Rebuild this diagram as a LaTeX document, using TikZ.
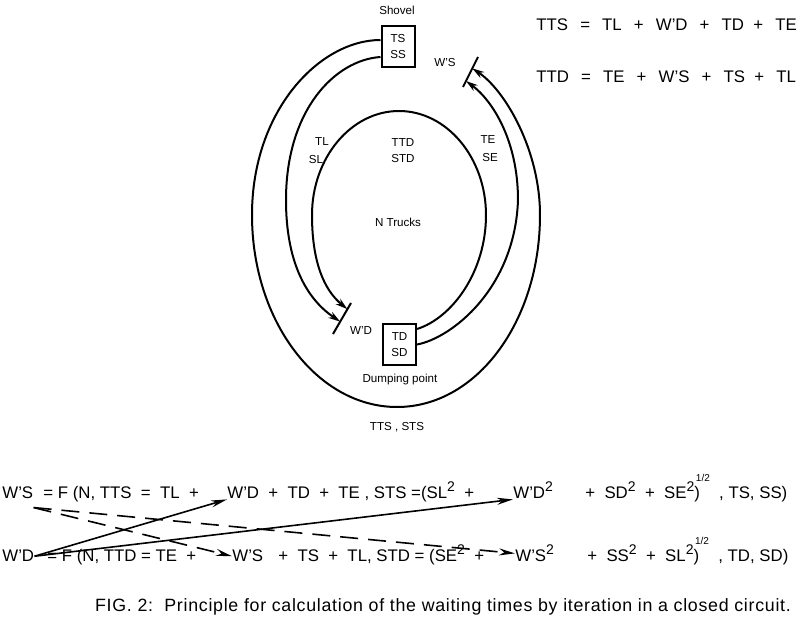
\documentclass[tikz,border=0pt]{standalone}
\usepackage{fontspec}
\setmainfont{Liberation Sans}
\usepackage{tikz}
\usetikzlibrary{arrows.meta}
\usetikzlibrary{calc}
\newcommand{\tsq}{\raisebox{0.45em}{\fontsize{7}{7}\selectfont 2}}
\newcommand{\thalf}{\hspace{-2pt}\raisebox{1.05em}{\fontsize{5}{5}\selectfont 1/2}}

\begin{document}
\begin{tikzpicture}[x=0.5pt,y=-0.5pt,
  lbl/.style={font=\fontsize{5.8}{8}\selectfont,inner sep=0pt},
  post/.style={draw,line width=1pt,inner sep=0pt,align=center,minimum width=16.5pt,minimum height=20.5pt,font=\fontsize{5.8}{8}\selectfont},
  eqn/.style={font=\fontsize{8.4}{10}\selectfont,anchor=base west,inner sep=0pt},
  track/.style={line width=1pt},
  tip/.style={-{Stealth[length=6pt,width=3.5pt]}},
  link/.style={line width=0.8pt,-{Stealth[length=8pt,width=3.5pt]}},
  dlink/.style={link,dash pattern=on 9pt off 5pt}]
\useasboundingbox (0,0) rectangle (800,626);

\node[post] (shovel) at (398,47) {TS\\SS};
\node[lbl] (shovlbl) at (397,10) {Shovel};
\node[post] (dump) at (399.5,344.5) {TD\\SD};
\node[lbl] (dumplbl) at (400,380) {Dumping point};
\node[lbl] (circ) at (397,427) {TTS , STS};
\node[lbl] (tl) at (322,142) {TL};
\node[lbl] (sl) at (316,160) {SL};
\node[lbl,align=center] (ttd) at (403,151) {TTD\\STD};
\node[lbl] (te) at (488,140) {TE};
\node[lbl] (se) at (490,158) {SE};
\node[lbl] (trucks) at (398,222) {N Trucks};
\node[lbl] (wslbl) at (445,63) {W'S};
\node[lbl] (wdlbl) at (361,331) {W'D};

\coordinate (wsa) at (478,57);
\coordinate (wsb) at (463,87);
\coordinate (wda) at (351,303);
\coordinate (wdb) at (333,334);
\draw[track] (wsa) -- (wsb);
\draw[track] (wda) -- (wdb);

\draw[track,tip] ([yshift=3.5pt]shovel.west) .. controls (320,40) and (252,110) .. (252,215)
  .. controls (252,321) and (317,407) .. (397,407) .. controls (477,407) and (540,321) .. (540,215)
  .. controls (540,150) and (505,90) .. ($(wsa)!0.38!(wsb)$);
\draw[track,tip] ([yshift=-5pt]shovel.west) .. controls (335,60) and (286,110) .. (286,200)
  .. controls (286,260) and (305,298) .. ($(wda)!0.6!(wdb)$);
\draw[track,tip] ([yshift=-3pt]dump.north east) .. controls (452,318) and (486,272) .. (486,215)
  .. controls (486,158) and (447,111) .. (399,111) .. controls (351,111) and (312,158) .. (312,215)
  .. controls (312,262) and (324,290) .. ($(wda)!0.2!(wdb)$);
\draw[track,tip] (dump.east) .. controls (452,338) and (515,288) .. (518,200)
  .. controls (518,140) and (492,100) .. ($(wsa)!0.8!(wsb)$);

\node[eqn] (tts) at (536,31) {TTS\ \ \,=\ \ \,TL\ \ \,+\ \ \,W'D\ \ \,+\ \ \,TD\ \ +\ \ \,TE};
\node[eqn] (ttdeq) at (536,83) {TTD\ \ \,=\ \ \,TE\ \ \,+\ \ \,W'S\ \ \,+\ \ \,TS\ \ +\ \ \,TL};

\node[eqn] (ws1) at (2,499) {W'S};
\node[eqn] (eq1a) at (43,499) {=\ F (N, TTS\ \ =\ \ TL\ \ +};
\node[eqn] (wd1) at (227,499) {W'D};
\node[eqn] (eq1b) at (268,499) {+\ \ TD\ \ +\ \ TE , STS\ =(SL\tsq\ \ +};
\node[eqn] (wd1sq) at (513,499) {W'D\tsq};
\node[eqn] (eq1c) at (585,499) {+\ \ SD\tsq\ \ +\ \ SE\tsq)\thalf\ \ , TS, SS)};

\node[eqn] (wd2) at (2,562) {W'D};
\node[eqn] (eq2a) at (47,562) {=\ F (N, TTD = TE\ \ +};
\node[eqn] (ws2) at (232,562) {W'S};
\node[eqn] (eq2b) at (278,562) {+\ \ TS\ \ +\ \ TL, STD\ =\ (SE\tsq\ \ +};
\node[eqn] (ws2sq) at (515,562) {W'S\tsq};
\node[eqn] (eq2c) at (587,562) {+\ \ SS\tsq\ \ +\ \ SL\tsq)\thalf\ \ , TD, SD)};

\draw[link] (wd2.east) -- (wd1.south west);
\draw[link] (wd2.east) -- (wd1sq.south west);
\draw[dlink] ([yshift=-4pt]ws1.south east) -- (ws2.west);
\draw[dlink] ([yshift=-4pt]ws1.south east) -- (ws2sq.west);

\node[font=\fontsize{8.9}{10}\selectfont\addfontfeatures{LetterSpace=4}] (caption) at (443,607) {FIG. 2:\ \ Principle for calculation of the waiting times by iteration in a closed circuit.};
\end{tikzpicture}
\end{document}
